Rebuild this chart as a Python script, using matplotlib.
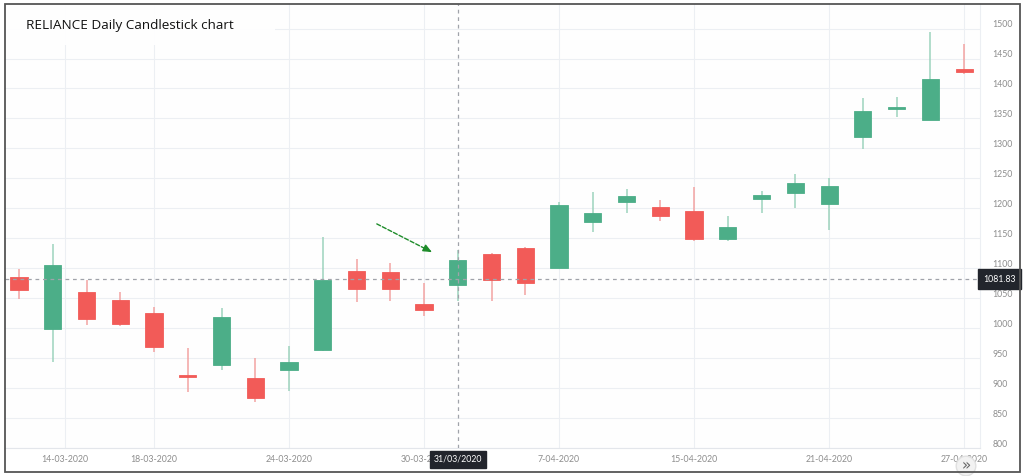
import matplotlib.pyplot as plt
from matplotlib.patches import Rectangle
from matplotlib.transforms import ScaledTranslation

# datos (OHLC diario)
fechas = ['12-03-2020', '13-03-2020', '16-03-2020', '17-03-2020', '18-03-2020',
          '19-03-2020', '20-03-2020', '23-03-2020', '24-03-2020', '25-03-2020',
          '26-03-2020', '27-03-2020', '30-03-2020', '31-03-2020', '01-04-2020',
          '03-04-2020', '07-04-2020', '08-04-2020', '09-04-2020', '13-04-2020',
          '15-04-2020', '16-04-2020', '17-04-2020', '20-04-2020', '21-04-2020',
          '22-04-2020', '23-04-2020', '24-04-2020', '27-04-2020']
apertura = [1085, 998, 1061, 1047, 1025, 921, 939, 917, 930, 964,
            1095, 1094, 1041, 1072, 1123, 1134, 1100, 1178, 1211, 1203,
            1196, 1148, 1215, 1225, 1208, 1319, 1365, 1348, 1433]
maximo = [1099, 1140, 1081, 1060, 1036, 967, 1034, 951, 970, 1152,
          1116, 1108, 1075, 1130, 1125, 1135, 1211, 1228, 1233, 1214,
          1235, 1188, 1229, 1257, 1251, 1384, 1385, 1494, 1474]
minimo = [1049, 943, 1005, 1003, 961, 893, 931, 876, 895, 962,
          1043, 1046, 1021, 1045, 1046, 1056, 1100, 1160, 1192, 1179,
          1145, 1146, 1192, 1201, 1164, 1299, 1352, 1347, 1424]
cierre = [1063, 1105, 1015, 1007, 968, 918, 1019, 884, 944, 1081,
          1066, 1065, 1030, 1114, 1080, 1076, 1206, 1192, 1220, 1188,
          1148, 1168, 1223, 1243, 1238, 1363, 1369, 1416, 1428]

# etiquetas del eje x (posicion en velas)
ticks_x = [1.35, 4, 8, 12, 16, 20, 24, 28]
etiquetas_x = ['14-03-2020', '18-03-2020', '24-03-2020', '30-03-2020',
               '7-04-2020', '15-04-2020', '21-04-2020', '27-04-2020']
ticks_y = [800, 850, 900, 950, 1000, 1050, 1100, 1150, 1200, 1250,
           1300, 1350, 1400, 1450, 1500]

precio_cruz = 1081.83
indice_cruz = fechas.index('31-03-2020')

verde = '#4cae88'
rojo = '#f25b58'
verde_mecha = '#9dd3bd'
rojo_mecha = '#f3a3a2'
gris = '#8d8d8d'

W, H = 1024, 476
fig = plt.figure(figsize=(W / 100, H / 100), dpi=100)
fig.patch.set_facecolor('white')
ax = fig.add_axes([5 / W, 1 - 448 / H, 975 / W, 444 / H])
ax.set_facecolor('#fefefe')

x = list(range(len(fechas)))
for i in x:
    sube = cierre[i] >= apertura[i]
    c = verde if sube else rojo
    cm = verde_mecha if sube else rojo_mecha
    ax.vlines(i, minimo[i], maximo[i], color=cm, lw=1.1, zorder=2)
    base = min(apertura[i], cierre[i])
    alto = max(abs(cierre[i] - apertura[i]), 3)
    ax.bar(i, alto, bottom=base, width=0.51, color=c, edgecolor=c,
           lw=0.6, zorder=3)

ax.set_xlim(-0.415, 28.47)
ax.set_ylim(801, 1541)

# rejilla
ax.set_yticks(ticks_y)
ax.set_xticks(ticks_x)
ax.set_xticklabels(etiquetas_x)
ax.grid(True, color='#eceff3', lw=0.8, zorder=0)
ax.yaxis.tick_right()
ax.tick_params(axis='both', length=0, labelsize=6.3, colors=gris)
ax.tick_params(axis='y', pad=9)
ax.tick_params(axis='x', pad=5)
for lab in ax.get_yticklabels() + ax.get_xticklabels():
    lab.set_family('Lato')
for lab in ax.get_yticklabels():
    lab.set_transform(lab.get_transform() + ScaledTranslation(0, 3.5 / 72, fig.dpi_scale_trans))
for s in ['top', 'left']:
    ax.spines[s].set_visible(False)
ax.spines['bottom'].set_color('#e3e6eb')
ax.spines['right'].set_color('#eceff3')

# cruz del cursor
ax.axhline(precio_cruz, color='#a0a3aa', lw=0.9, ls=(0, (3, 3)), zorder=4)
ax.axvline(indice_cruz, color='#a0a3aa', lw=0.9, ls=(0, (3, 3)), zorder=4)
oscuro = '#22252c'
ax.annotate(f'{precio_cruz:.2f}', xy=(1.0, precio_cruz),
            xycoords=('axes fraction', 'data'), xytext=(14, 0),
            textcoords='offset points', ha='center', va='center',
            fontsize=6.3, color='white', family='Lato',
            bbox=dict(boxstyle='square,pad=0.6', fc=oscuro, ec=oscuro),
            annotation_clip=False, zorder=6)
ax.annotate('31/03/2020', xy=(indice_cruz, 0), xycoords=('data', 'axes fraction'),
            xytext=(0, -8), textcoords='offset points', ha='center', va='center',
            fontsize=6.3, color='white', family='Lato',
            bbox=dict(boxstyle='square,pad=0.45', fc=oscuro, ec=oscuro),
            annotation_clip=False, zorder=6)

# flecha verde
ax.annotate('', xy=(12.23, 1127), xytext=(10.6, 1174),
            arrowprops=dict(arrowstyle='-', color='#1e8c2a', lw=1.0,
                            ls=(0, (3, 1.5)), shrinkA=0, shrinkB=0), zorder=5)
ax.annotate('', xy=(12.23, 1127), xytext=(12.0, 1134),
            arrowprops=dict(arrowstyle='-|>,head_length=0.5,head_width=0.22',
                            color='#1e8c2a', lw=1.0, shrinkA=0, shrinkB=0),
            zorder=5)

# caja del titulo
fig.patches.append(Rectangle((5 / W, 1 - 45 / H), 270 / W, 41 / H,
                             transform=fig.transFigure, fc='white', ec='none',
                             alpha=0.92, zorder=5))
fig.text(26 / W, 1 - 26 / H, 'RELIANCE Daily Candlestick chart', fontsize=9.7,
         family='Open Sans', color='#111111', va='center', ha='left', zorder=6)

# boton >>
fig.text(966 / W, 1 - 466 / H, '»', fontsize=11, color='#666666',
         ha='center', va='center',
         bbox=dict(boxstyle='circle,pad=0.15', fc='#f2f2f2', ec='#e0e0e0'))

# marco
fig.patches.append(Rectangle((5 / W, 1 - 472 / H), 1015 / W, 468 / H,
                             transform=fig.transFigure, fill=False,
                             ec='#555555', lw=1.3, zorder=10))

plt.savefig('out.png', dpi=100)
